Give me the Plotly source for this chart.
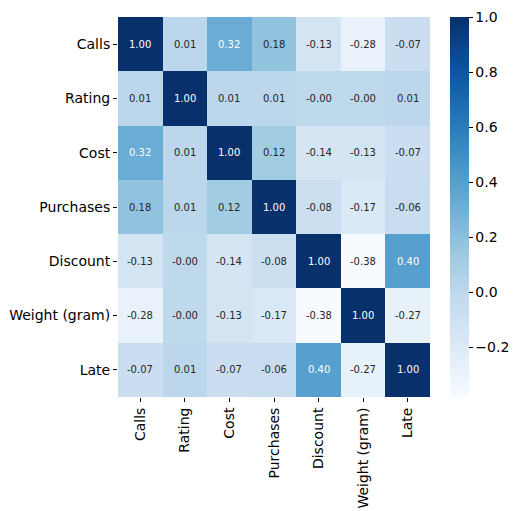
import plotly.graph_objects as go

labels = ["Calls", "Rating", "Cost", "Purchases", "Discount", "Weight (gram)", "Late"]

row_calls = [1.00, 0.01, 0.32, 0.18, -0.13, -0.28, -0.07]
row_rating = [0.01, 1.00, 0.01, 0.01, -0.00, -0.00, 0.01]
row_cost = [0.32, 0.01, 1.00, 0.12, -0.14, -0.13, -0.07]
row_purchases = [0.18, 0.01, 0.12, 1.00, -0.08, -0.17, -0.06]
row_discount = [-0.13, -0.00, -0.14, -0.08, 1.00, -0.38, 0.40]
row_weight = [-0.28, -0.00, -0.13, -0.17, -0.38, 1.00, -0.27]
row_late = [-0.07, 0.01, -0.07, -0.06, 0.40, -0.27, 1.00]

corr = [row_calls, row_rating, row_cost, row_purchases, row_discount, row_weight, row_late]

cbar_ticks = [-0.2, 0.0, 0.2, 0.4, 0.6, 0.8, 1.0]

blues = [
    [0.0, "#f7fbff"], [0.125, "#deebf7"], [0.25, "#c6dbef"], [0.375, "#9ecae1"],
    [0.5, "#6baed6"], [0.625, "#4292c6"], [0.75, "#2171b5"], [0.875, "#08519c"],
    [1.0, "#08306b"],
]

FONT = "DejaVu Sans"

fig = go.Figure(
    go.Heatmap(
        z=corr,
        x=labels,
        y=labels,
        colorscale=blues,
        zmin=-0.38,
        zmax=1.0,
        hovertemplate="%{y} / %{x}: %{z:.2f}<extra></extra>",
        colorbar=dict(
            x=1.064,
            xanchor="left",
            y=0.5,
            yanchor="middle",
            len=1.0,
            lenmode="fraction",
            thickness=19,
            ypad=0,
            xpad=0,
            outlinewidth=0,
            ticks="outside",
            ticklen=4,
            tickwidth=1,
            tickcolor="#000000",
            tickvals=cbar_ticks,
            ticktext=[f"{v:.1f}".replace("-", "\u2212") for v in cbar_ticks],
            ticklabeloverflow="allow",
            tickfont=dict(family=FONT, size=14, color="#000000"),
        ),
    )
)

# cell annotations, white on dark cells like seaborn
for i, row in enumerate(corr):
    for j, val in enumerate(row):
        fig.add_annotation(
            x=labels[j],
            y=labels[i],
            text=f"{val:.2f}",
            showarrow=False,
            font=dict(family=FONT, size=10, color="#ffffff" if val > 0.3 else "#262626"),
        )

axis_style = dict(
    ticks="outside",
    ticklen=4,
    tickcolor="#000000",
    tickfont=dict(family=FONT, size=14, color="#000000"),
    showgrid=False,
    zeroline=False,
    automargin=False,
)
fig.update_xaxes(tickangle=-90, **axis_style)
fig.update_yaxes(autorange="reversed", **axis_style)
# page body adds an 8px offset, so margins are shifted to compensate;
# top margin leaves room for the "1.0" colorbar label
fig.update_layout(
    width=517,
    height=511,
    margin=dict(l=110, r=95, t=9, b=122, autoexpand=False),
    paper_bgcolor="#ffffff",
    plot_bgcolor="#ffffff",
)

fig.write_html("out.html")
